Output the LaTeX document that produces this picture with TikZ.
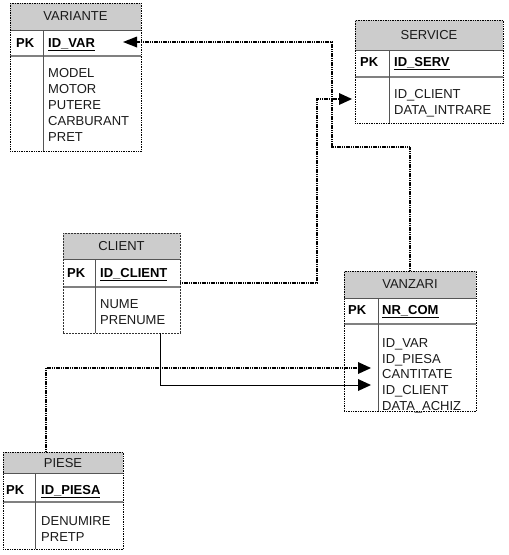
\documentclass[tikz,border=0pt]{standalone}
\usepackage{fontspec}
\setmainfont{Liberation Sans}
\usetikzlibrary{arrows.meta}
\definecolor{hdrgray}{HTML}{CCCCCC}
\definecolor{lingray}{HTML}{555555}
\definecolor{pkgray}{HTML}{808080}
\definecolor{txtcol}{HTML}{1A1A1A}
\begin{document}
\begin{tikzpicture}[x=1pt,y=-1pt,
  txt/.style={inner sep=0pt, text height=9.3pt, text depth=0pt, text=txtcol, font=\fontsize{13}{15}\selectfont},
  fld/.style={txt, anchor=west},
  ttl/.style={txt, anchor=center},
  pkt/.style={txt, anchor=west, text=black, font=\fontsize{13}{15}\selectfont\bfseries},
  tbox/.style={draw=black, densely dotted, line width=0.7pt, inner sep=0pt, anchor=north west},
  cbox/.style={draw=black!80, dash pattern=on 2pt off 1pt, line width=0.7pt, inner sep=0pt, anchor=north west},
  hdr/.style={fill=hdrgray},
  hline/.style={draw=lingray, line width=0.9pt},
  pkline/.style={draw=pkgray, line width=2pt},
  vline/.style={draw=lingray, line width=0.9pt},
  fkthick/.style={line width=1.8pt, dash pattern=on 1.2pt off 0.6pt},
  fkthin/.style={line width=1.2pt, dash pattern=on 1.2pt off 0.6pt},
  fksolid/.style={line width=1pt},
  headfill/.style={fill=black},
]
\useasboundingbox (0,0) rectangle (509,555);

% ---------- VARIANTE ----------
\fill[hdr] (10,3) rectangle (141,30);
\draw[hline] (10,30) -- (141,30);
\draw[pkline] (10,56) -- (141,56);
\draw[vline] (43,30) -- (43,151);
\node[tbox, minimum width=131pt, minimum height=148pt] (variante) at (10,3) {};
\node[ttl] (v-title) at (75.5,16) {VARIANTE};
\node[pkt] (v-pk) at (16,43) {PK};
\node[pkt] (v-key) at (48,43) {\underline{ID\_VAR}};
\node[fld] (v-f1) at (48,73) {MODEL};
\node[fld] (v-f2) at (48,89) {MOTOR};
\node[fld] (v-f3) at (48,105) {PUTERE};
\node[fld] (v-f4) at (48,121) {CARBURANT};
\node[fld] (v-f5) at (48,137) {PRET};

% ---------- SERVICE ----------
\fill[hdr] (355,20) rectangle (503,50);
\draw[hline] (355,50) -- (503,50);
\draw[pkline] (355,77) -- (503,77);
\draw[vline] (389,50) -- (389,123);
\node[tbox, minimum width=148pt, minimum height=103pt] (service) at (355,20) {};
\node[ttl] (s-title) at (429,35) {SERVICE};
\node[pkt] (s-pk) at (360,62) {PK};
\node[pkt] (s-key) at (394,62) {\underline{ID\_SERV}};
\node[fld] (s-f1) at (394,94) {ID\_CLIENT};
\node[fld] (s-f2) at (394,110) {DATA\_INTRARE};

% ---------- CLIENT ----------
\fill[hdr] (63,233) rectangle (180,259);
\draw[hline] (63,259) -- (180,259);
\draw[pkline] (63,287) -- (180,287);
\draw[vline] (95,259) -- (95,333);
\node[cbox, minimum width=117pt, minimum height=100pt] (client) at (63,233) {};
\node[ttl] (c-title) at (121.5,246) {CLIENT};
\node[pkt] (c-pk) at (67,273) {PK};
\node[pkt] (c-key) at (100,273) {\underline{ID\_CLIENT}};
\node[fld] (c-f1) at (100,304) {NUME};
\node[fld] (c-f2) at (100,320) {PRENUME};

% ---------- VANZARI ----------
\fill[hdr] (344,271) rectangle (476,298);
\draw[hline] (344,298) -- (476,298);
\draw[pkline] (344,324) -- (476,324);
\draw[vline] (378,298) -- (378,411);
\node[tbox, minimum width=132pt, minimum height=140pt] (vanzari) at (344,271) {};
\node[ttl] (z-title) at (410,284) {VANZARI};
\node[pkt] (z-pk) at (348,310) {PK};
\node[pkt] (z-key) at (382,310) {\underline{NR\_COM}};
\node[fld] (z-f1) at (382,343) {ID\_VAR};
\node[fld] (z-f2) at (382,359) {ID\_PIESA};
\node[fld] (z-f3) at (382,374) {CANTITATE};
\node[fld] (z-f4) at (382,390) {ID\_CLIENT};
\node[fld] (z-f5) at (382,406) {DATA\_ACHIZ};

% ---------- PIESE ----------
\fill[hdr] (3,452) rectangle (123,473);
\draw[hline] (3,473) -- (123,473);
\draw[pkline] (3,502) -- (123,502);
\draw[vline] (35,473) -- (35,549);
\node[tbox, minimum width=120pt, minimum height=97pt] (piese) at (3,452) {};
\node[ttl] (p-title) at (63,463) {PIESE};
\node[pkt] (p-pk) at (6,490) {PK};
\node[pkt] (p-key) at (41,490) {\underline{ID\_PIESA}};
\node[fld] (p-f1) at (41,521) {DENUMIRE};
\node[fld] (p-f2) at (41,537) {PRETP};

% ---------- connector end points ----------
\coordinate (vz-top) at (410,271);
\coordinate (v-tip) at (123,42);
\coordinate (c-right) at (180,283);
\coordinate (s-tip) at (352,99);
\coordinate (c-bot) at (160,333);
\coordinate (z-tip2) at (371,385);
\coordinate (p-top) at (46,452);
\coordinate (z-tip1) at (371,368);

% ---------- connectors ----------
\draw[fkthick] (vz-top) -- (410,147) -- (332,147) -- (332,42) -- ++(-196,0);
\fill[headfill] (v-tip) -- ++(14,-5.5) -- ++(0,11) -- cycle;
\draw[fkthin] (c-right) -- (317,283) -- (317,99) -- ++(22,0);
\fill[headfill] (s-tip) -- ++(-13,-6) -- ++(0,12) -- cycle;
\draw[fksolid] (c-bot) -- (160,385) -- ++(198,0);
\fill[headfill] (z-tip2) -- ++(-13,-6) -- ++(0,12) -- cycle;
\draw[fkthick] (p-top) -- (46,368) -- ++(312,0);
\fill[headfill] (z-tip1) -- ++(-13,-6) -- ++(0,12) -- cycle;
\end{tikzpicture}
\end{document}
